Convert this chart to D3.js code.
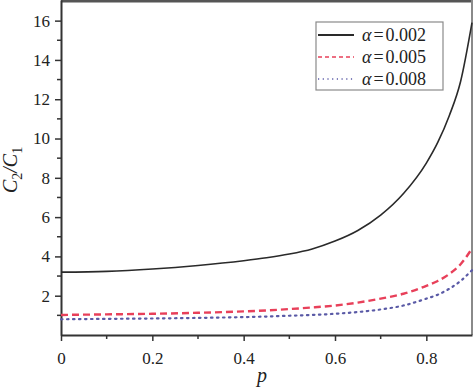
<!DOCTYPE html>
<html>
<head>
<meta charset="utf-8">
<script src="https://cdn.jsdelivr.net/npm/d3@7"></script>
<style>
  body { margin: 0; background: #fff; }
  svg { display: block; }
  text { font-family: "Liberation Serif", "DejaVu Serif", serif; fill: #222; }
</style>
</head>
<body>
<div id="chart"></div>
<script>
// values
var pValues = [0, 0.1, 0.2, 0.3, 0.4, 0.45, 0.5, 0.55, 0.6, 0.65, 0.7, 0.75, 0.8, 0.825, 0.85, 0.875, 0.9];
var ratio002 = [3.2, 3.24, 3.36, 3.54, 3.78, 3.93, 4.12, 4.38, 4.78, 5.32, 6.1, 7.2, 8.75, 9.8, 11.15, 12.9, 15.9];
var ratio005 = [1.02, 1.05, 1.08, 1.13, 1.2, 1.25, 1.32, 1.4, 1.5, 1.65, 1.85, 2.1, 2.5, 2.75, 3.1, 3.6, 4.4];
var ratio008 = [0.8, 0.82, 0.84, 0.87, 0.91, 0.94, 0.98, 1.02, 1.08, 1.17, 1.3, 1.5, 1.85, 2.05, 2.35, 2.75, 3.3];
var seriesNames = ["0.002", "0.005", "0.008"];
var xTicks = [0, 0.2, 0.4, 0.6, 0.8];
var yTicks = [2, 4, 6, 8, 10, 12, 14, 16];

var svgWidth = 474, svgHeight = 390;
var margin = {top: 0, right: 2, bottom: 55, left: 61},
    width = svgWidth - margin.left - margin.right,
    height = svgHeight - margin.top - margin.bottom;
var serif = "'Liberation Serif', 'DejaVu Serif', serif";

var svg = d3.select("#chart")
  .append("svg")
    .attr("width", svgWidth)
    .attr("height", svgHeight)
  .append("g")
    .attr("transform", "translate(" + margin.left + "," + margin.top + ")");

var x = d3.scaleLinear().domain([0, 0.9]).range([0, width]);
var y = d3.scaleLinear().domain([0, 17.05]).range([height, 0]);

// frame (top and right)
svg.append("line").attr("x1", 0).attr("x2", width + 1).attr("y1", 1).attr("y2", 1)
  .attr("stroke", "#555").attr("stroke-width", 3);
svg.append("line").attr("x1", width).attr("x2", width).attr("y1", 0).attr("y2", height)
  .attr("stroke", "#8a8a8a").attr("stroke-width", 2);

// minor ticks
svg.append("g").selectAll("line")
  .data(d3.range(1, 17, 2))
  .join("line")
    .attr("x1", -4).attr("x2", 0)
    .attr("y1", d => y(d)).attr("y2", d => y(d))
    .attr("stroke", "#333").attr("stroke-width", 1.5);
svg.append("g").selectAll("line")
  .data([0.1, 0.3, 0.5, 0.7])
  .join("line")
    .attr("x1", d => x(d)).attr("x2", d => x(d))
    .attr("y1", height).attr("y2", height + 4)
    .attr("stroke", "#333").attr("stroke-width", 1.5);

// axes
var xAxis = svg.append("g")
  .attr("transform", "translate(0," + height + ")")
  .call(d3.axisBottom(x).tickValues(xTicks).tickSize(6).tickSizeOuter(0).tickFormat(d => d === 0 ? "0" : d3.format(".1f")(d)));
var yAxis = svg.append("g")
  .call(d3.axisLeft(y).tickValues(yTicks).tickSize(6).tickSizeOuter(0));

[xAxis, yAxis].forEach(function(a) {
  a.attr("font-family", null).attr("font-size", null);
  a.select(".domain").attr("stroke", "#333").attr("stroke-width", 2);
  a.selectAll(".tick line").attr("stroke", "#333").attr("stroke-width", 1.5);
  a.selectAll("text").style("font-family", serif).style("font-size", "17px").attr("fill", "#222");
});
xAxis.selectAll("text").attr("dy", null).attr("y", 29);
yAxis.selectAll("text").attr("x", -11);

// curves
var line = d3.line()
  .x(d => x(d[0]))
  .y(d => y(d[1]))
  .curve(d3.curveMonotoneX);

var styles = [
  {color: "#2a2a2a", width: 1.6, dash: null},
  {color: "#e8405a", width: 2.4, dash: "7,4"},
  {color: "#5a5aa6", width: 2.2, dash: "1.5,4.5"}
];
var allSeries = [ratio002, ratio005, ratio008];

svg.append("g").selectAll("path")
  .data(allSeries)
  .join("path")
    .attr("fill", "none")
    .attr("d", (s) => line(pValues.map((p, i) => [p, s[i]])))
    .attr("stroke", (s, i) => styles[i].color)
    .attr("stroke-width", (s, i) => styles[i].width)
    .attr("stroke-dasharray", (s, i) => styles[i].dash)
    .attr("stroke-linecap", (s, i) => i === 2 ? "round" : "butt");

// legend
var legend = svg.append("g").attr("transform", "translate(" + (316 - margin.left) + ",22)");
legend.append("rect")
  .attr("width", 127).attr("height", 68)
  .attr("fill", "#fff").attr("stroke", "#8a8a8a").attr("stroke-width", 1.2);

var rows = legend.selectAll("g.row")
  .data(seriesNames)
  .join("g")
    .attr("class", "row")
    .attr("transform", (d, i) => "translate(0," + (13 + i * 22) + ")");
rows.append("line")
  .attr("x1", 2).attr("x2", 38)
  .attr("stroke", (d, i) => styles[i].color)
  .attr("stroke-width", (d, i) => i === 0 ? 2 : 1.6)
  .attr("stroke-dasharray", (d, i) => i === 1 ? "4,3" : (i === 2 ? "1.2,3.5" : null));
var lt = rows.append("text")
  .attr("x", 46).attr("dy", "0.35em")
  .style("font-family", serif)
  .style("font-size", "18px");
lt.append("tspan").style("font-style", "italic").text("\u03b1");
lt.append("tspan").attr("dx", 2).text("=");
lt.append("tspan").attr("dx", 2).text(d => d);

// axis titles
svg.append("text")
  .attr("x", x(0.44)).attr("y", height + 47)
  .attr("text-anchor", "middle")
  .style("font-family", serif)
  .style("font-size", "20px").style("font-style", "italic")
  .text("p");

var yl = svg.append("text")
  .attr("transform", "translate(-44," + y(8.4) + ") rotate(-90)")
  .attr("text-anchor", "middle")
  .style("font-family", serif)
  .style("font-size", "20px").style("font-style", "italic");
yl.append("tspan").text("C");
yl.append("tspan").attr("dy", 5).style("font-size", "14px").style("font-style", "normal").text("2");
yl.append("tspan").attr("dy", -5).text("/C");
yl.append("tspan").attr("dy", 5).style("font-size", "14px").style("font-style", "normal").text("1");
</script>
</body>
</html>
